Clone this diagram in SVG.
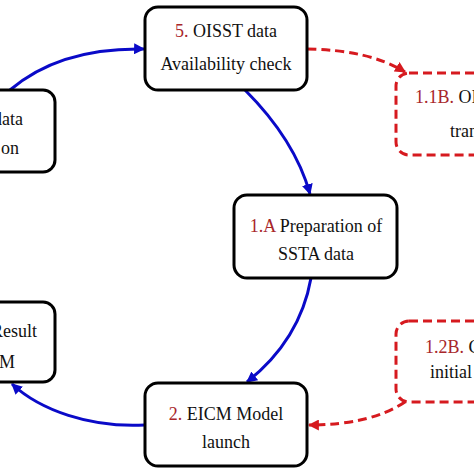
<svg xmlns="http://www.w3.org/2000/svg" width="474" height="474" viewBox="0 0 474 474">
<defs>
<marker id="ab" viewBox="0 0 10 10" refX="9" refY="5" markerWidth="11" markerHeight="11" markerUnits="userSpaceOnUse" orient="auto"><path d="M0,0 L10,5 L0,10 z" fill="#0a0ac8"/></marker>
<marker id="ar" viewBox="0 0 10 10" refX="9" refY="5" markerWidth="11" markerHeight="11" markerUnits="userSpaceOnUse" orient="auto"><path d="M0,0 L10,5 L0,10 z" fill="#d61a1f"/></marker>
<style>
.box{fill:#fff;stroke:#000;stroke-width:3}
.dbox{fill:#fff;stroke:#d61a1f;stroke-width:3;stroke-dasharray:9 5}
.t{font-family:"Liberation Serif","Times New Roman",serif;font-size:18px;fill:#111}
.n{fill:#a8262a}
.b{fill:none;stroke:#0a0ac8;stroke-width:3}
.r{fill:none;stroke:#d61a1f;stroke-width:3;stroke-dasharray:9 5}
</style>
</defs>
<rect width="474" height="474" fill="#fff"/>
<g id="connectors">
<path class="b" d="M10,90 C45,60 90,48 144,49" marker-end="url(#ab)"/>
<path class="b" d="M245,90 Q295,140 310,194" marker-end="url(#ab)"/>
<path class="b" d="M311,278 Q300,340 247,382" marker-end="url(#ab)"/>
<path class="b" d="M145,425 C90,428 40,410 12,384" marker-end="url(#ab)"/>
<path class="r" d="M307,49 Q370,50 405,72" marker-end="url(#ar)"/>
<path class="r" d="M405,402 Q370,425 309,425" marker-end="url(#ar)"/>
</g>
<g id="node-left-top">
<rect class="box" x="-30" y="90" width="85" height="82" rx="12"/>
<text class="t" x="23" y="125" text-anchor="end">data</text>
<text class="t" x="19" y="154" text-anchor="end">on</text>
</g>
<g id="node-left-bottom">
<rect class="box" x="-30" y="302" width="85" height="80" rx="12"/>
<text class="t" x="37" y="337" text-anchor="end">Result</text>
<text class="t" x="15" y="368" text-anchor="end">M</text>
</g>
<g id="node-5">
<rect class="box" x="145" y="7" width="162" height="83" rx="13"/>
<text class="t" x="226" y="37" text-anchor="middle"><tspan class="n">5.</tspan> OISST data</text>
<text class="t" x="226" y="70" text-anchor="middle">Availability check</text>
</g>
<g id="node-1A">
<rect class="box" x="234" y="195" width="163" height="83" rx="13"/>
<text class="t" x="316" y="232" text-anchor="middle"><tspan class="n">1.A</tspan> Preparation of</text>
<text class="t" x="316" y="260" text-anchor="middle">SSTA data</text>
</g>
<g id="node-2">
<rect class="box" x="145" y="383" width="162" height="83" rx="13"/>
<text class="t" x="226" y="420" text-anchor="middle"><tspan class="n">2.</tspan> EICM Model</text>
<text class="t" x="226" y="448" text-anchor="middle">launch</text>
</g>
<g id="node-1-1B">
<rect class="dbox" x="396" y="73" width="110" height="82" rx="13"/>
<text class="t" x="415" y="103"><tspan class="n">1.1B.</tspan> OI</text>
<text class="t" x="450" y="137">tran</text>
</g>
<g id="node-1-2B">
<rect class="dbox" x="396" y="321" width="110" height="81" rx="13"/>
<text class="t" x="425" y="353"><tspan class="n">1.2B.</tspan> C</text>
<text class="t" x="430" y="378">initial</text>
</g>
</svg>
